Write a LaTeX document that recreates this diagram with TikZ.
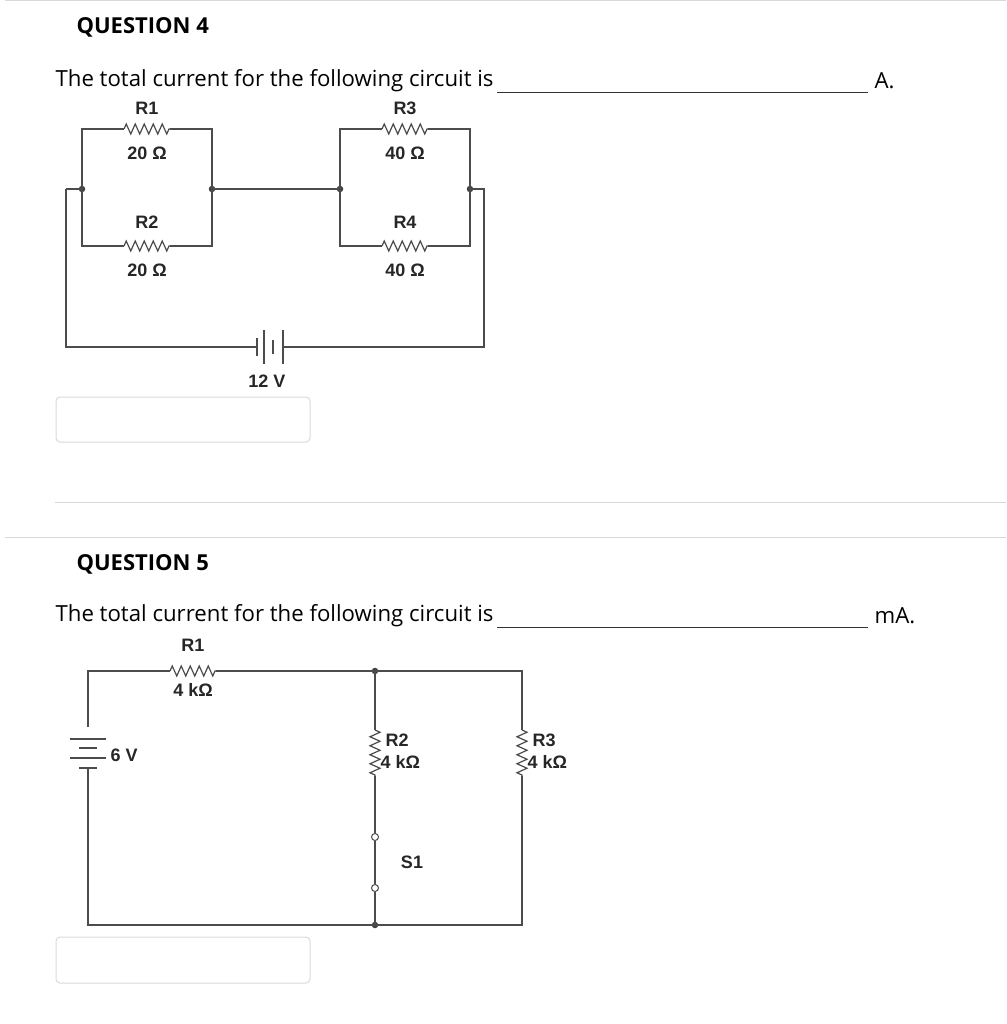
\documentclass[tikz,border=0pt]{standalone}
\usepackage{fontspec}
\setmainfont{Open Sans}
\newfontfamily\lbl{Liberation Sans}
\usetikzlibrary{decorations.pathmorphing}
\begin{document}
\begin{tikzpicture}[x=1pt, y=-1pt, line width=1.2pt, draw=black!70]
    \tikzset{every node/.style={inner sep=0pt}};
    \tikzset{lab/.style={font=\lbl\bfseries\fontsize{18}{18}\selectfont, text=black!85}};
    \tikzset{res/.style={decorate, decoration={zigzag, segment length=9pt, amplitude=5pt}}};
    \tikzset{dot/.style={circle, fill=black!75, minimum size=6.5pt}};
    \tikzset{rule/.style={draw=black!15, line width=1pt}};
    \tikzset{box/.style={draw=black!15, rounded corners=4pt, line width=1pt}};
    \useasboundingbox (0,0) rectangle (1006,1024);

    % page frame
    \draw[rule] (5,1) -- (1006,1);
    \draw[rule] (55,502) -- (1006,502);
    \draw[rule] (5,537) -- (1006,537);
    \draw[box] (56,397) rectangle (310,442);
    \draw[box] (56,937) rectangle (310,983);

    \node[anchor=west, font=\bfseries\fontsize{22}{22}\selectfont] (qa) at (76,27) {QUESTION 4};
    \node[anchor=west, font=\fontsize{22.2}{22.2}\selectfont] (ta) at (55,81) {The total current for the following circuit is};
    \draw[black!80, line width=0.8pt] (497,92) -- (868,92);
    \node[anchor=west, font=\fontsize{22.2}{22.2}\selectfont] (ua) at (874,81) {A.};

    \node[anchor=west, font=\bfseries\fontsize{22}{22}\selectfont] (qb) at (76,564) {QUESTION 5};
    \node[anchor=west, font=\fontsize{22.2}{22.2}\selectfont] (tb) at (55,616) {The total current for the following circuit is};
    \draw[black!80, line width=0.8pt] (497,627) -- (868,627);
    \node[anchor=west, font=\fontsize{22.2}{22.2}\selectfont] (ub) at (874,616) {mA.};

    % circuit 1
    \coordinate (a1) at (66,189);
    \coordinate (a2) at (66,347);
    \coordinate (b1) at (484,189);
    \coordinate (b2) at (484,347);
    \node[dot] (j1) at (82,189) {};
    \node[dot] (j2) at (212,189) {};
    \node[dot] (j3) at (340,189) {};
    \node[dot] (j4) at (470,189) {};
    \draw (a1) -- (j1.center);
    \draw (j4.center) -- (b1) -- (b2) -- (297,347);
    \draw (a1) -- (a2) -- (242,347);
    \draw (j2.center) -- (j3.center);
    \draw (j1.center) |- (124,129);
    \draw[res] (124,129) -- (170,129);
    \draw (170,129) -| (j2.center);
    \draw (j1.center) |- (124,246);
    \draw[res] (124,246) -- (170,246);
    \draw (170,246) -| (j2.center);
    \draw (j3.center) |- (382,129);
    \draw[res] (382,129) -- (428,129);
    \draw (428,129) -| (j4.center);
    \draw (j3.center) |- (382,246);
    \draw[res] (382,246) -- (428,246);
    \draw (428,246) -| (j4.center);
    % battery
    \draw (242,347) -- (257,347);
    \draw (257,338) -- (257,356);
    \draw (264,330) -- (264,364);
    \draw (273,340) -- (273,354);
    \draw (283,330) -- (283,364);
    \draw (283,347) -- (297,347);
    \node[lab] (r1) at (147,108) {R1};
    \node[lab] (v1) at (147,153) {20 Ω};
    \node[lab] (r2) at (147,222) {R2};
    \node[lab] (v2) at (147,270) {20 Ω};
    \node[lab] (r3) at (405,108) {R3};
    \node[lab] (v3) at (405,153) {40 Ω};
    \node[lab] (r4) at (405,222) {R4};
    \node[lab] (v4) at (405,270) {40 Ω};
    \node[lab] (e1) at (267,381) {12 V};

    % circuit 2
    \coordinate (c1) at (88,671);
    \coordinate (c2) at (88,925);
    \coordinate (d1) at (522,671);
    \coordinate (d2) at (522,925);
    \node[dot] (k1) at (375,671) {};
    \node[dot] (k2) at (375,925) {};
    \node[circle, draw, fill=white, minimum size=7pt, line width=1pt] (s1) at (375,837) {};
    \node[circle, draw, fill=white, minimum size=7pt, line width=1pt] (s2) at (375,888) {};
    \draw (88,727) -- (c1) -- (170,671);
    \draw[res] (170,671) -- (216,671);
    \draw (216,671) -- (k1.center) -- (d1) -- (522,730);
    \draw[res] (522,730) -- (522,776);
    \draw (522,776) -- (d2) -- (k2.center) -- (c2) -- (88,768);
    \draw (k1.center) -- (375,730);
    \draw[res] (375,730) -- (375,776);
    \draw (375,776) -- (s1) -- (s2) -- (k2.center);
    \draw (70,739) -- (106,739);
    \draw (79,748) -- (97,748);
    \draw (70,758) -- (106,758);
    \draw (79,768) -- (97,768);
    \node[lab] (r5) at (193,645) {R1};
    \node[lab] (v5) at (193,690) {4 kΩ};
    \node[lab, anchor=west] (e2) at (110,755) {6 V};
    \node[lab, anchor=west] (r6) at (385,740) {R2};
    \node[lab, anchor=west] (v6) at (380,762) {4 kΩ};
    \node[lab, anchor=west] (r7) at (532,740) {R3};
    \node[lab, anchor=west] (v7) at (527,762) {4 kΩ};
    \node[lab] (s3) at (412,862) {S1};
\end{tikzpicture}
\end{document}
